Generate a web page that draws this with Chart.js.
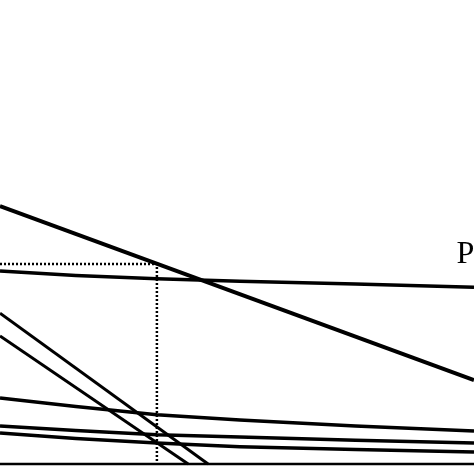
<!DOCTYPE html>
<html>
<head>
<meta charset="utf-8">
<script src="https://cdn.jsdelivr.net/npm/chart.js@4/dist/chart.umd.min.js"></script>
<style>
  html, body { margin: 0; padding: 0; background: #fff; }
  #wrap { width: 474px; height: 474px; }
</style>
</head>
<body>
<div id="wrap"><canvas id="grafico"></canvas></div>
<script>
// dados (x: 0..10, y: 0..10, y=0 na linha de base)
var xSteep = [0, 10];
var ySteep = [5.56, 1.81];

var xFlat = [0, 1.6, 3.31, 5.06, 7.5, 10];
var yFlat = [4.16, 4.06, 3.99, 3.94, 3.88, 3.81];

var xGuide = [0, 3.31, 3.31];
var yGuide = [4.31, 4.31, 0];

var xDiagA = [0, 4.39];
var yDiagA = [3.25, 0];
var xDiagB = [0, 3.97];
var yDiagB = [2.76, 0];

var xLow = [0, 1.6, 3.31, 5.06, 7.5, 10];
var yLow1 = [1.42, 1.24, 1.06, 0.95, 0.82, 0.71];
var yLow2 = [0.82, 0.72, 0.63, 0.58, 0.51, 0.45];
var yLow3 = [0.67, 0.55, 0.45, 0.37, 0.31, 0.26];

var xBase = [0, 10];
var yBase = [0, 0];

var rotulo = 'P';
var rotuloX = 9.63;
var rotuloY = 4.33;

function pares(xs, ys) {
  return xs.map(function (x, i) { return { x: x, y: ys[i] }; });
}

function serie(xs, ys, largura, tracejado) {
  return {
    data: pares(xs, ys),
    borderColor: '#000',
    backgroundColor: 'transparent',
    borderWidth: largura,
    borderDash: tracejado || [],
    pointRadius: 0,
    tension: 0,
    fill: false
  };
}

// escreve o rótulo na posição dos dados
var textoPlugin = {
  id: 'textoPlugin',
  afterDatasetsDraw: function (chart) {
    var ctx = chart.ctx;
    var px = chart.scales.x.getPixelForValue(rotuloX);
    var py = chart.scales.y.getPixelForValue(rotuloY);
    ctx.save();
    ctx.fillStyle = '#000';
    ctx.font = '32px "Liberation Serif", "DejaVu Serif", serif';
    ctx.textAlign = 'left';
    ctx.textBaseline = 'alphabetic';
    ctx.fillText(rotulo, px, py);
    ctx.restore();
  }
};

var ctx1 = document.getElementById('grafico').getContext('2d');
var chart = new Chart(ctx1, {
  type: 'line',
  data: {
    datasets: [
      serie(xSteep, ySteep, 4),
      serie(xFlat, yFlat, 3.5),
      serie(xGuide, yGuide, 2.5, [2, 2]),
      serie(xDiagA, yDiagA, 3),
      serie(xDiagB, yDiagB, 3),
      serie(xLow, yLow1, 3.5),
      serie(xLow, yLow2, 3.5),
      serie(xLow, yLow3, 3.5),
      serie(xBase, yBase, 2.5)
    ]
  },
  options: {
    responsive: true,
    maintainAspectRatio: false,
    animation: false,
    layout: { padding: { left: 0, right: 0, top: 0, bottom: 10 } },
    plugins: { legend: { display: false }, tooltip: { enabled: false } },
    scales: {
      x: { type: 'linear', min: 0, max: 10, display: false },
      y: { type: 'linear', min: 0, max: 10, display: false }
    },
    elements: { line: { borderCapStyle: 'butt' } },
    clip: false
  },
  plugins: [textoPlugin]
});
</script>
</body>
</html>
